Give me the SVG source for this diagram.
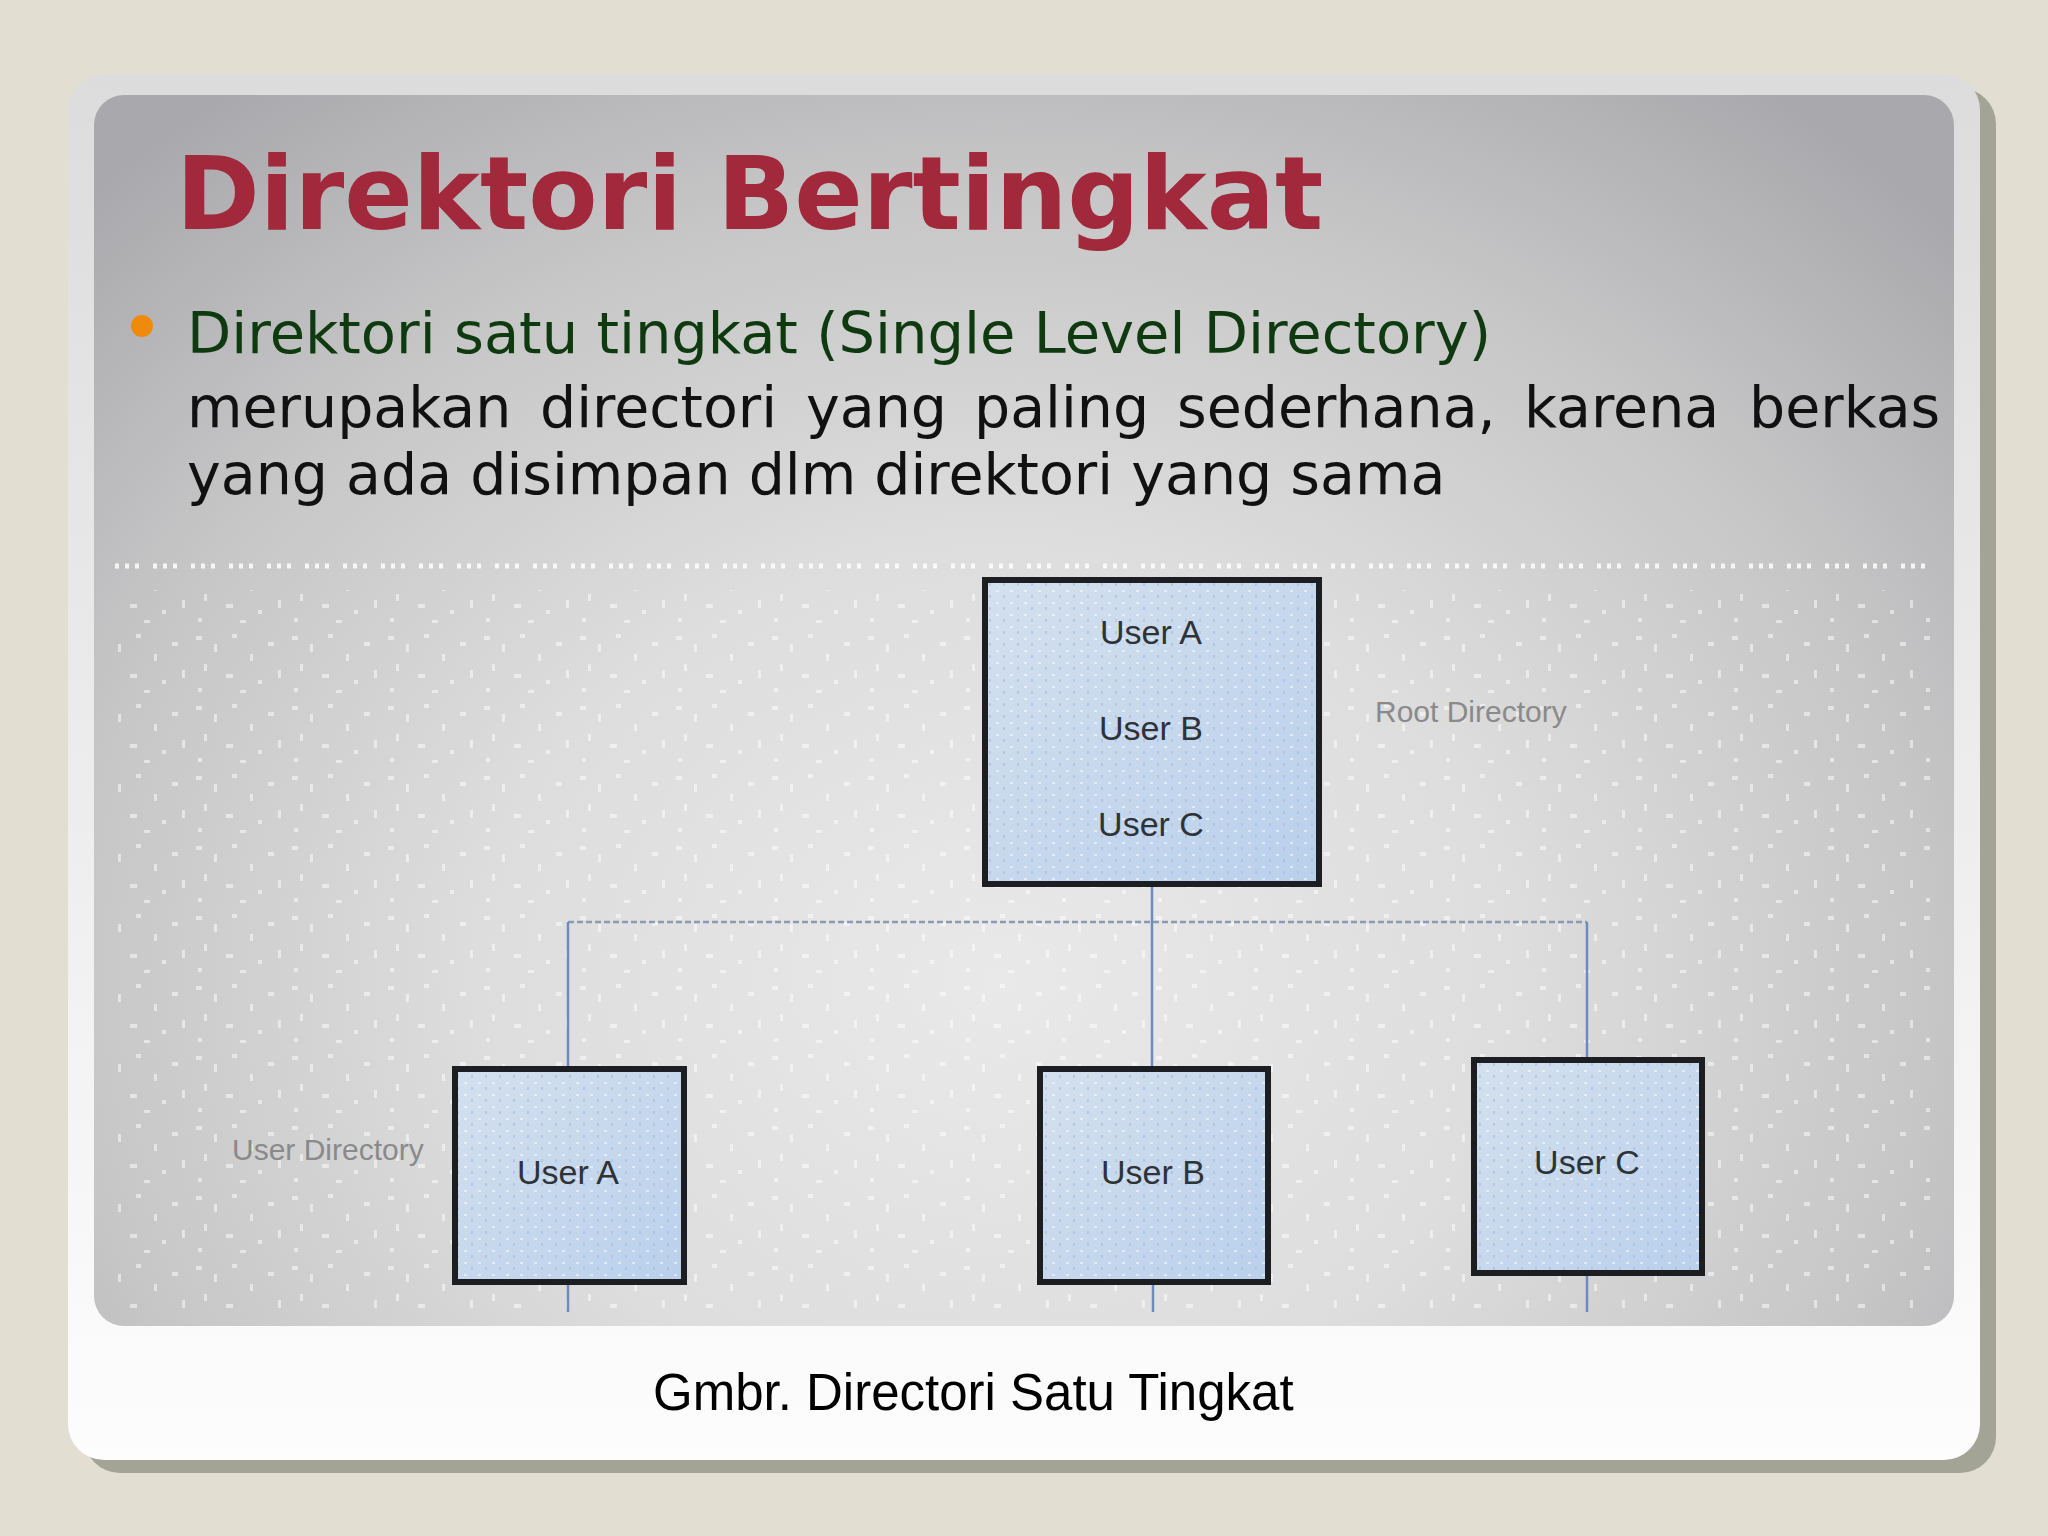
<svg xmlns="http://www.w3.org/2000/svg" width="2048" height="1536" viewBox="0 0 2048 1536">
<defs>
<linearGradient id="card" x1="0" y1="0" x2="0" y2="1">
<stop offset="0" stop-color="#dcdcdc"/>
<stop offset="0.55" stop-color="#eeeeee"/>
<stop offset="1" stop-color="#fdfdfe"/>
</linearGradient>
<radialGradient id="panel" cx="1000" cy="980" r="1300" gradientUnits="userSpaceOnUse" gradientTransform="translate(1000 980) scale(1 0.85) translate(-1000 -980)">
<stop offset="0" stop-color="#e9e9e9"/>
<stop offset="0.4" stop-color="#dddddd"/>
<stop offset="0.72" stop-color="#c6c6c7"/>
<stop offset="1" stop-color="#a9a9ad"/>
</radialGradient>
<linearGradient id="boxfill" x1="0" y1="0" x2="1" y2="1">
<stop offset="0" stop-color="#d4e0ee"/>
<stop offset="1" stop-color="#b9d0ec"/>
</linearGradient>
<pattern id="speck" x="0" y="0" width="96" height="70" patternUnits="userSpaceOnUse">
<rect x="4" y="6" width="6" height="4" fill="#fff"/>
<rect x="22" y="14" width="3" height="8" fill="#fff"/>
<rect x="40" y="4" width="5" height="4" fill="#fff"/>
<rect x="58" y="24" width="3" height="7" fill="#fff"/>
<rect x="76" y="12" width="6" height="4" fill="#fff"/>
<rect x="12" y="34" width="3" height="7" fill="#fff"/>
<rect x="34" y="44" width="7" height="4" fill="#fff"/>
<rect x="66" y="50" width="4" height="4" fill="#fff"/>
<rect x="86" y="40" width="3" height="8" fill="#fff"/>
<rect x="48" y="60" width="6" height="3" fill="#fff"/>
<rect x="6" y="58" width="4" height="4" fill="#fff"/>
</pattern>
<pattern id="boxspeck" x="0" y="0" width="14" height="12" patternUnits="userSpaceOnUse">
<rect x="2" y="2" width="3" height="2" fill="#ffffff" opacity="0.5"/>
<rect x="9" y="7" width="2" height="3" fill="#9fb6d4" opacity="0.5"/>
</pattern>
</defs>
<style>
.title{font-family:"DejaVu Sans",Verdana,sans-serif;font-weight:bold;font-size:101px;fill:#a2283c}
.sub{font-family:"DejaVu Sans",Verdana,sans-serif;font-size:57.5px;fill:#0f3a10}
.body{font-family:"DejaVu Sans",Verdana,sans-serif;font-size:57px;fill:#111}
.box{fill:url(#boxfill);stroke:#1c1e22;stroke-width:6}
.boxn{fill:url(#boxspeck)}
.lbl{font-family:"Liberation Sans",Arial,sans-serif;font-size:34px;fill:#2e3338;text-anchor:middle}
.note{font-family:"Liberation Sans",Arial,sans-serif;font-size:30px;fill:#8a8a8a}
.cap{font-family:"Liberation Sans",Arial,sans-serif;font-size:51px;fill:#000}
.conn{stroke:#6b8cbd;stroke-width:2.5;fill:none}
.connd{stroke:#8d9bb0;stroke-width:2.5;fill:none;stroke-dasharray:6 3}
</style>
<rect x="0" y="0" width="2048" height="1536" fill="#e2dfd2"/>
<rect x="84" y="88" width="1912" height="1385" rx="36" fill="#a3a396"/>
<rect x="68" y="74" width="1912" height="1386" rx="36" fill="url(#card)"/>
<rect x="94" y="95" width="1860" height="1231" rx="30" fill="url(#panel)"/>
<g id="image-bg">
<rect x="112" y="590" width="1820" height="720" fill="url(#speck)" opacity="0.5"/>
<line x1="115" y1="566" x2="1930" y2="566" stroke="#ffffff" stroke-width="5" stroke-dasharray="4 6 4 6 4 14" opacity="0.85"/>
</g>
<g id="title"><text class="title" x="176" y="229">Direktori Bertingkat</text></g>
<g id="bullets">
<circle cx="142" cy="326" r="11" fill="#f08a0c"/>
<text class="sub" x="187" y="353">Direktori satu tingkat (Single Level Directory)</text>
<text class="body" y="427"><tspan x="187">merupakan</tspan><tspan x="540">directori</tspan><tspan x="806">yang</tspan><tspan x="974">paling</tspan><tspan x="1177">sederhana,</tspan><tspan x="1524">karena</tspan><tspan x="1749">berkas</tspan></text>
<text class="body" x="187" y="494">yang ada disimpan dlm direktori yang sama</text>
</g>
<g id="connectors">
<line class="conn" x1="1152" y1="886" x2="1152" y2="1067"/>
<line class="connd" x1="568" y1="922" x2="1587" y2="922"/>
<line class="conn" x1="568" y1="922" x2="568" y2="1067"/>
<line class="conn" x1="1587" y1="922" x2="1587" y2="1058"/>
<line class="conn" x1="568" y1="1283" x2="568" y2="1312"/>
<line class="conn" x1="1153" y1="1283" x2="1153" y2="1312"/>
<line class="conn" x1="1587" y1="1273" x2="1587" y2="1312"/>
</g>
<g id="root">
<rect class="box" x="985" y="580" width="334" height="304"/>
<rect class="boxn" x="988" y="583" width="328" height="298"/>
<text class="lbl" x="1151" y="644">User A</text>
<text class="lbl" x="1151" y="740">User B</text>
<text class="lbl" x="1151" y="836">User C</text>
</g>
<g id="root-label"><text class="note" x="1375" y="722">Root Directory</text></g>
<g id="userA">
<rect class="box" x="455" y="1069" width="229" height="213"/>
<rect class="boxn" x="458" y="1072" width="223" height="207"/>
<text class="lbl" x="568" y="1184">User A</text>
</g>
<g id="userB">
<rect class="box" x="1040" y="1069" width="228" height="213"/>
<rect class="boxn" x="1043" y="1072" width="222" height="207"/>
<text class="lbl" x="1153" y="1184">User B</text>
</g>
<g id="userC">
<rect class="box" x="1474" y="1060" width="228" height="213"/>
<rect class="boxn" x="1477" y="1063" width="222" height="207"/>
<text class="lbl" x="1587" y="1174">User C</text>
</g>
<g id="user-dir-label"><text class="note" x="232" y="1160">User Directory</text></g>
<g id="caption"><text class="cap" x="653" y="1410">Gmbr. Directori Satu Tingkat</text></g>
</svg>
